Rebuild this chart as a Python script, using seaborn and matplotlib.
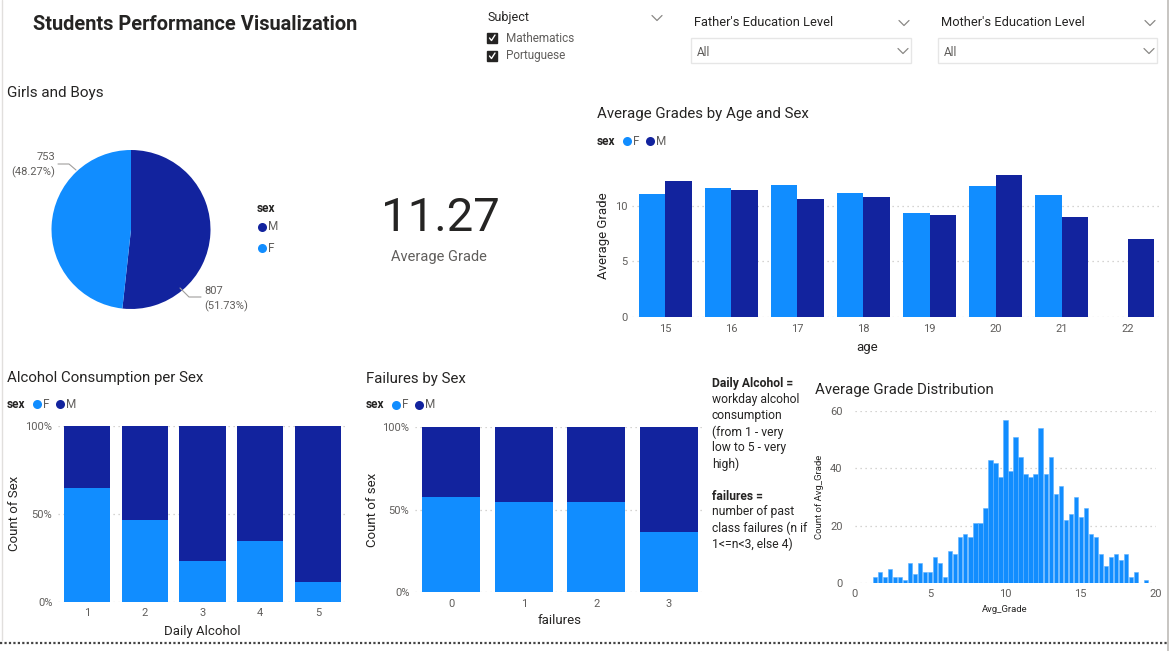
import numpy as np
import pandas as pd
import seaborn as sns
import matplotlib.pyplot as plt
from matplotlib.lines import Line2D
from matplotlib.patches import Rectangle

# ---- data ----
sex_labels = ['M', 'F']
sex_counts = [807, 753]
avg_grade = 11.27

ages = [15, 16, 17, 18, 19, 20, 21, 22]
grade_f = [11.04, 11.57, 11.87, 11.10, 9.32, 11.78, 10.98, np.nan]
grade_m = [12.23, 11.42, 10.62, 10.80, 9.17, 12.73, 8.99, 7.00]

alcohol_levels = [1, 2, 3, 4, 5]
alcohol_f_pct = [65.0, 46.4, 23.1, 34.5, 11.6]

failures = [0, 1, 2, 3]
failures_f_pct = [57.5, 54.3, 54.5, 36.4]

# Avg_Grade comes in thirds: 4/3 ... 58/3
grade_thirds = list(range(4, 59))
grade_counts = [2, 4, 2, 5, 2, 2, 1, 7, 3, 7, 4, 4, 9, 7, 2, 11, 10, 16, 17, 16,
                21, 21, 26, 43, 42, 37, 57, 39, 51, 44, 38, 37, 38, 54, 38, 44, 31, 34,
                22, 24, 30, 23, 26, 17, 16, 10, 6, 9, 10, 8, 10, 2, 4, 0, 1]

F_COL = '#118DFF'
M_COL = '#12239E'
DARK = '#252423'
GREY = '#605E5C'
GRID = '#C8C6C4'

sns.set_theme(style='white')
plt.rcParams['font.family'] = ['Roboto', 'DejaVu Sans']

W, H = 1172, 651
fig = plt.figure(figsize=(W / 100, H / 100), dpi=100)
fig.patch.set_facecolor('white')


def fx(x):
    return x / W


def fy(y):
    return 1 - y / H


def px_axes(l, t, r, b):
    return fig.add_axes([fx(l), fy(b), (r - l) / W, (b - t) / H])


def txt(x, y, s, size=9, color=DARK, **kw):
    kw.setdefault('va', 'center')
    fig.text(fx(x), fy(y), s, fontsize=size, color=color, **kw)


def line(xs, ys, **kw):
    fig.add_artist(Line2D([fx(v) for v in xs], [fy(v) for v in ys],
                          transform=fig.transFigure, **kw))


def chevron(cx, cy, w=10, h=5):
    line([cx - w / 2, cx, cx + w / 2], [cy - h / 2, cy + h / 2, cy - h / 2],
         color='#8A8886', lw=0.9)


def dot(x, y, c):
    fig.add_artist(Line2D([fx(x)], [fy(y)], marker='o', ms=6.5, color=c,
                          markeredgewidth=0, transform=fig.transFigure))


def sex_legend(x, y, order=('F', 'M')):
    txt(x, y, 'sex', size=8.5, color=DARK, fontweight='bold')
    cols = {'F': F_COL, 'M': M_COL}
    for i, s in enumerate(order):
        cx = x + 30 + i * 23
        dot(cx, y, cols[s])
        txt(cx + 6, y, s, size=8.5, color=GREY)


def style_axes(ax, pad_y=3, pad_x=5):
    for sp in ax.spines.values():
        sp.set_visible(False)
    ax.set_xlabel('')
    ax.set_ylabel('')
    ax.yaxis.grid(True, linestyle=(0, (1, 3)), color=GRID, lw=0.9)
    ax.xaxis.grid(False)
    ax.set_axisbelow(True)
    ax.tick_params(axis='both', length=0, labelsize=8, labelcolor=GREY)
    ax.tick_params(axis='y', pad=pad_y)
    ax.tick_params(axis='x', pad=pad_x)
    ax.set_facecolor('none')


# ---- header ----
txt(33, 24, 'Students Performance Visualization', size=14.4, fontweight='bold')
txt(487, 18, 'Subject', size=9)
chevron(657, 18)
for yy, name in [(38, 'Mathematics'), (56, 'Portuguese')]:
    fig.add_artist(Rectangle((fx(487), fy(yy + 5)), 10 / W, 10 / H, transform=fig.transFigure,
                             facecolor=DARK, edgecolor=DARK))
    line([489.5, 491.5, 495], [yy, yy + 2.5, yy - 3], color='white', lw=1)
    txt(506, yy, name, size=8.5, color=GREY)

for x0, x1, label in [(691, 911, "Father's Education Level"), (938, 1157, "Mother's Education Level")]:
    txt(x0 + 3, 23, label, size=9.3)
    chevron(x1 - 7, 23)
    fig.add_artist(Rectangle((fx(x0), fy(63)), (x1 - x0) / W, 25 / H, transform=fig.transFigure,
                             facecolor='white', edgecolor='#E6E6E6', lw=1))
    txt(x0 + 6, 52, 'All', size=8.5, color=GREY)
    chevron(x1 - 8, 51)

# ---- pie ----
txt(7, 93, 'Girls and Boys', size=11)
ax_pie = px_axes(51.5, 150, 210.5, 309)
ax_pie.pie(sex_counts, colors=[M_COL, F_COL], startangle=90, counterclock=False,
           wedgeprops=dict(linewidth=0))
ax_pie.set_xlim(-1, 1)
ax_pie.set_ylim(-1, 1)
ax_pie.set_aspect('equal')

total = sum(sex_counts)
txt(55, 157, f'{sex_counts[1]}', size=8, color=GREY, ha='right')
txt(55, 172, f'({sex_counts[1] / total:.2%})', size=8, color=GREY, ha='right')
line([58, 69, 76], [164, 164, 170], color='#A19F9D', lw=0.8)
txt(204, 291, f'{sex_counts[0]}', size=8, color=GREY, ha='left')
txt(204, 306, f'({sex_counts[0] / total:.2%})', size=8, color=GREY, ha='left')
line([180, 189, 201], [288, 297, 297], color='#A19F9D', lw=0.8)

txt(257, 208, 'sex', size=8.5, fontweight='bold')
for yy, s, c in [(227, 'M', M_COL), (248, 'F', F_COL)]:
    dot(262, yy, c)
    txt(268, yy, s, size=8.5, color=GREY)

# ---- KPI card ----
txt(440, 218, f'{avg_grade:.2f}', size=34, ha='center', color=DARK)
txt(439, 257, 'Average Grade', size=10.5, ha='center', color=GREY)

# ---- average grades by age and sex ----
txt(597, 114, 'Average Grades by Age and Sex', size=10.8)
sex_legend(597, 141)
df_age = pd.DataFrame({'age': ages * 2,
                       'sex': ['F'] * len(ages) + ['M'] * len(ages),
                       'grade': grade_f + grade_m})
ax_age = px_axes(632, 161, 1161, 317)
sns.barplot(data=df_age, x='age', y='grade', hue='sex', hue_order=['F', 'M'],
            palette={'F': F_COL, 'M': M_COL}, errorbar=None, width=0.8,
            saturation=1, legend=False, ax=ax_age, linewidth=0)
ax_age.set_ylim(0, 14)
ax_age.set_yticks([0, 5, 10])
ax_age.set_xlim(-0.5, len(ages) - 0.5)
style_axes(ax_age, pad_y=3, pad_x=5)
txt(604, 236, 'Average Grade', size=9.5, rotation=90, ha='center')
txt(867, 348, 'age', size=9.5, ha='center')

# ---- alcohol consumption per sex (100% stacked) ----
txt(7, 378, 'Alcohol Consumption per Sex', size=10.8)
sex_legend(7, 404)
df_alc = pd.DataFrame({'level': alcohol_levels, 'F': alcohol_f_pct})
df_alc['M'] = 100 - df_alc['F']
df_alc['total'] = df_alc['F'] + df_alc['M']
ax_alc = px_axes(58, 426, 347, 602)
sns.barplot(data=df_alc, x='level', y='total', color=M_COL, saturation=1,
            errorbar=None, width=0.8, ax=ax_alc, linewidth=0)
sns.barplot(data=df_alc, x='level', y='F', color=F_COL, saturation=1,
            errorbar=None, width=0.8, ax=ax_alc, linewidth=0)
ax_alc.set_ylim(0, 100)
ax_alc.set_yticks([0, 50, 100])
ax_alc.set_yticklabels(['0%', '50%', '100%'])
style_axes(ax_alc, pad_y=4, pad_x=4)
txt(14, 513, 'Count of Sex', size=9.5, rotation=90, ha='center')
txt(202, 631, 'Daily Alcohol', size=9.5, ha='center')

# ---- failures by sex (100% stacked) ----
txt(366, 379, 'Failures by Sex', size=10.8)
sex_legend(366, 405)
df_fail = pd.DataFrame({'failures': failures, 'F': failures_f_pct})
df_fail['M'] = 100 - df_fail['F']
df_fail['total'] = df_fail['F'] + df_fail['M']
ax_fail = px_axes(415, 427, 705, 592)
sns.barplot(data=df_fail, x='failures', y='total', color=M_COL, saturation=1,
            errorbar=None, width=0.8, ax=ax_fail, linewidth=0)
sns.barplot(data=df_fail, x='failures', y='F', color=F_COL, saturation=1,
            errorbar=None, width=0.8, ax=ax_fail, linewidth=0)
ax_fail.set_ylim(0, 100)
ax_fail.set_yticks([0, 50, 100])
ax_fail.set_yticklabels(['0%', '50%', '100%'])
style_axes(ax_fail, pad_y=4, pad_x=5)
txt(373, 510, 'Count of sex', size=9.5, rotation=90, ha='center')
txt(560, 621, 'failures', size=9.5, ha='center')

# ---- notes ----
notes = [('Daily Alcohol =', True), ('workday alcohol', False), ('consumption', False),
         ('(from 1 - very', False), ('low to 5 - very', False), ('high)', False),
         ('', False), ('failures =', True), ('number of past', False),
         ('class failures (n if', False), ('1<=n<3, else 4)', False)]
for i, (s, bold) in enumerate(notes):
    txt(712, 384 + 16 * i, s, size=8.7, color=DARK,
        fontweight='bold' if bold else 'normal')

# ---- average grade distribution ----
txt(815, 390, 'Average Grade Distribution', size=10.8)
df_hist = pd.DataFrame({'Avg_Grade': np.array(grade_thirds) / 3, 'count': grade_counts})
ax_hist = px_axes(855, 411, 1156, 583)
sns.histplot(data=df_hist, x='Avg_Grade', weights='count', binwidth=1 / 3,
             binrange=(7 / 6, 117 / 6), shrink=0.85, color=F_COL, alpha=1,
             edgecolor='#5fb2ff', linewidth=0.4, ax=ax_hist)
ax_hist.set_xlim(0, 20)
ax_hist.set_ylim(0, 60)
ax_hist.set_yticks([0, 20, 40, 60])
ax_hist.set_xticks([0, 5, 10, 15, 20])
style_axes(ax_hist, pad_y=9, pad_x=4)
txt(820, 497, 'Count of Avg_Grade', size=6.8, rotation=90, ha='center')
txt(1005, 610, 'Avg_Grade', size=6.8, ha='center')

# ---- page frame ----
line([1.5, 1.5], [0, 640], color='#E1DFDD', lw=1)
line([1168, 1168], [0, 651], color='#BEBBB8', lw=1.2)
line([0, 1167], [643, 643], color='#444444', lw=1.6, linestyle=(0, (1, 1)))

fig.savefig('out.png', dpi=100, facecolor='white')
